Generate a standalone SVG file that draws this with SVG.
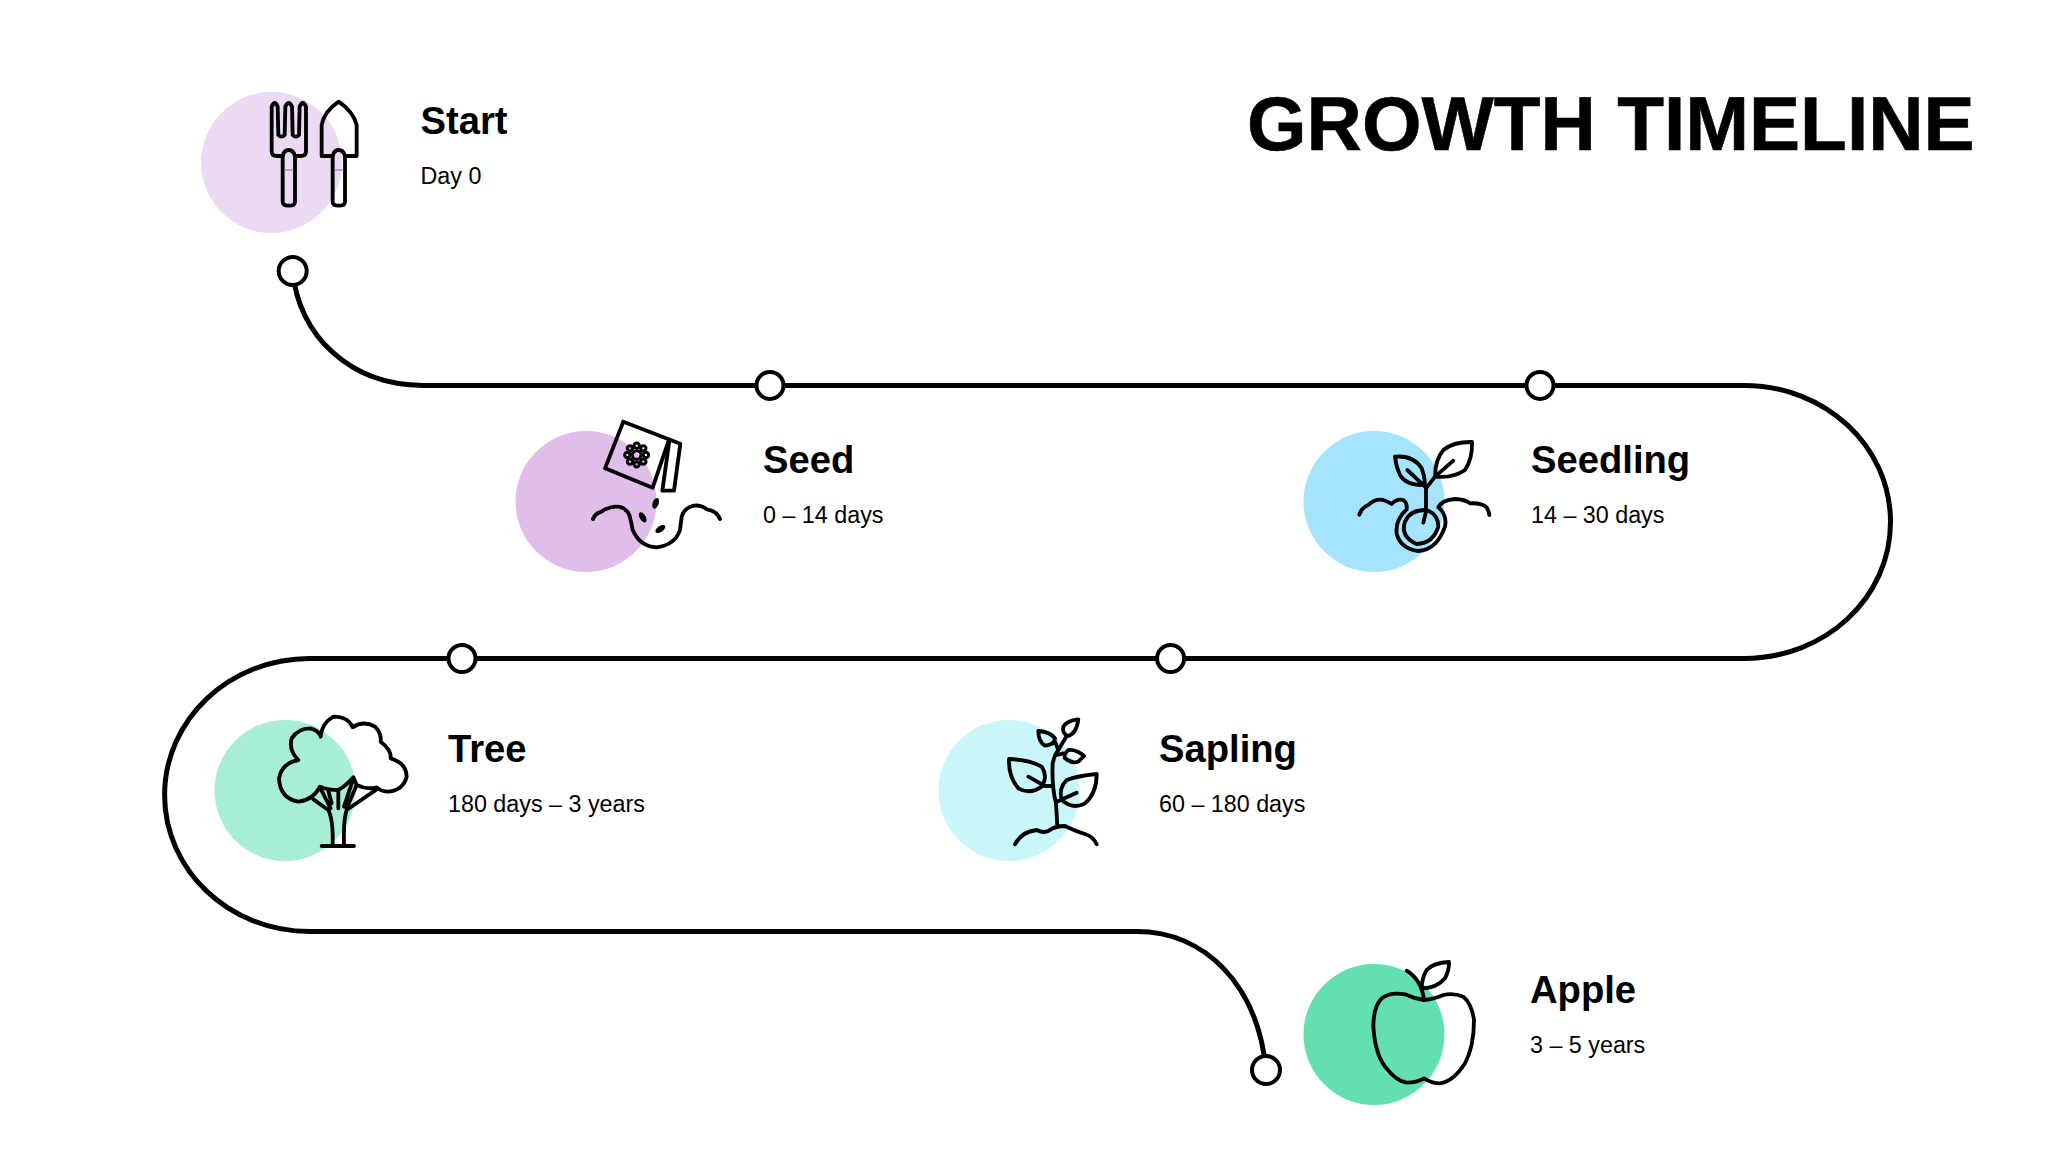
<svg xmlns="http://www.w3.org/2000/svg" width="2048" height="1152" viewBox="0 0 2048 1152">
<style>
text{font-family:"Liberation Sans",Arial,sans-serif;fill:#000}
.h{font-size:38.2px;font-weight:700}
.s{font-size:23.3px}
.t{font-size:76.6px;font-weight:700;stroke:#000;stroke-width:.6}
.ic{fill:none;stroke:#000;stroke-width:11.5;stroke-linejoin:round;stroke-linecap:round}
.thin{fill:none;stroke:#777;stroke-width:3}
.road{fill:none;stroke:#000;stroke-width:5}
.dot{fill:#fff;stroke:#000;stroke-width:4}
</style>
<rect width="2048" height="1152" fill="#fff"/>
<text id="title" class="t" x="1247" y="150">GROWTH TIMELINE</text>
<g id="connectors">
<path class="road" d="M292.7 271 C298 335 350 385.4 423 385.4 L1744 385.4 C1825 385.4 1890.5 446 1890.5 522 C1890.5 598 1825 658.5 1744 658.5 L309.6 658.5 C229 658.5 164.6 720 164.6 795 C164.6 870 229 931.5 309.6 931.5 L1136.7 931.5 C1205 931.5 1258 985 1266 1070"/>
</g>
<g id="milestones">
<circle class="dot" cx="292.7" cy="271" r="14"/>
<circle class="dot" cx="770" cy="385.4" r="13.5"/>
<circle class="dot" cx="1540" cy="385.4" r="13.5"/>
<circle class="dot" cx="462" cy="658.5" r="13.5"/>
<circle class="dot" cx="1170.6" cy="658.5" r="13.5"/>
<circle class="dot" cx="1266" cy="1070" r="14"/>
</g>
<g id="start">
<circle cx="271.5" cy="162.5" r="70.5" fill="#ecd9f3"/>
<g transform="translate(180 70) scale(.33333)">
<path class="ic" d="M275 245 L275 110 Q284 88 293 110 L295 195 Q305 205 314 195 L316 110 Q326 88 336 110 L338 195 Q348 205 357 195 L359 110 Q368 88 378 110 L378 245 Q378 258 360 258 L345 258 Q340 240 326 240 Q312 240 308 258 L292 258 Q275 258 275 245 Z"/>
<path class="ic" d="M308 258 L308 395 Q308 407 327 407 Q345 407 345 395 L345 258"/>
<path class="ic" d="M476 95 Q520 125 530 165 L530 258 L495 258 Q490 240 476 240 Q462 240 458 258 L425 258 L425 165 Q432 125 476 95 Z"/>
<path class="ic" d="M458 258 L458 395 Q458 407 476 407 Q495 407 495 395 L495 258"/>
<path class="thin" d="M312 300 H342 M462 300 H491"/>
</g>
<text class="h" x="420.5" y="134">Start</text>
<text class="s" x="420.5" y="184">Day 0</text>
</g>
<g id="seed">
<circle cx="586" cy="501.5" r="70.5" fill="#e1bdea"/>
<g transform="translate(500 400) scale(.33333)">
<path class="ic" d="M370 65 L541 131 L522 272 L487 272 L508 122"/>
<path class="ic" d="M370 65 L315 205 L458 263 L505 125"/>
<g class="ic" style="stroke-width:9">
<circle cx="410" cy="165" r="13"/>
<circle cx="410" cy="137" r="8"/><circle cx="430" cy="145" r="8"/><circle cx="438" cy="165" r="8"/><circle cx="430" cy="185" r="8"/><circle cx="410" cy="193" r="8"/><circle cx="390" cy="185" r="8"/><circle cx="382" cy="165" r="8"/><circle cx="390" cy="145" r="8"/>
</g>
<ellipse cx="467" cy="310" rx="17" ry="9" transform="rotate(-70 467 310)"/>
<ellipse cx="428" cy="352" rx="17" ry="9" transform="rotate(60 428 352)"/>
<ellipse cx="481" cy="387" rx="17" ry="9" transform="rotate(-35 481 387)"/>
<path class="ic" d="M279 357 Q285 340 305 335 Q315 325 345 320 Q375 318 388 345 Q395 370 398 390 Q420 440 470 442 Q525 435 540 390 L545 350 Q555 318 590 316 Q610 318 620 328 Q650 332 660 357"/>
</g>
<text class="h" x="763" y="473">Seed</text>
<text class="s" x="763" y="523">0 – 14 days</text>
</g>
<g id="seedling">
<circle cx="1374" cy="501.5" r="70.5" fill="#a6e3ff"/>
<g transform="translate(1290 420) scale(.33333)">
<path class="ic" d="M208 284 Q215 262 235 255 Q255 235 280 240 Q295 245 305 252 Q320 235 340 240 Q352 248 350 268 Q315 300 320 340 Q330 385 385 393 Q440 390 465 320 Q472 285 445 262 Q455 240 495 237 Q525 238 540 250 Q575 248 590 262 Q597 275 598 285"/>
<path class="ic" d="M405 270 Q360 270 345 305 Q330 350 380 372 Q430 370 445 320 Q445 285 415 272"/>
<path class="ic" d="M408 205 L408 275 L400 308"/>
<path class="ic" d="M315 110 Q370 105 395 145 Q405 170 405 195 Q350 198 330 165 Q318 140 315 110 Z M352 150 L405 200"/>
<path class="ic" d="M546 66 Q490 65 460 90 Q435 120 435 170 Q490 175 525 150 Q548 115 546 66 Z M490 122 L435 170 L408 205"/>
</g>
<text class="h" x="1531" y="473">Seedling</text>
<text class="s" x="1531" y="523">14 – 30 days</text>
</g>
<g id="tree">
<circle cx="285" cy="790.5" r="70.5" fill="#a8eed5"/>
<g transform="translate(200 700) scale(.33333)">
<path class="ic" d="M360 260 Q340 300 295 305 Q240 295 237 235 Q245 190 295 180 Q265 150 275 115 Q295 85 330 85 Q355 90 362 110 Q365 70 400 50 Q445 50 458 82 Q490 60 525 80 Q545 100 542 125 Q575 150 572 175 Q620 190 620 230 Q610 270 565 275 Q545 275 530 262 Q500 270 470 255 L460 232 Q435 260 415 270 Q385 270 360 260 Z"/>
<path class="ic" d="M340 298 L385 330 Q400 360 398 435 M432 435 Q430 360 440 330 L530 268 M360 262 L392 325 M385 272 L395 310 M415 270 L415 325 M460 235 L432 320 M470 255 L440 325"/>
<path class="ic" d="M365 438 H462"/>
</g>
<text class="h" x="448" y="762">Tree</text>
<text class="s" x="448" y="812">180 days – 3 years</text>
</g>
<g id="sapling">
<circle cx="1009" cy="790.5" r="70.5" fill="#c9f6fa"/>
<g transform="translate(930 700) scale(.33333)">
<path class="ic" d="M255 433 Q275 395 320 390 Q340 400 355 393 Q375 378 405 378 Q440 395 465 402 Q490 410 500 433"/>
<path class="ic" d="M382 378 L378 310 Q365 260 368 190 Q375 160 385 150 L410 108"/>
<path class="ic" d="M237 177 Q300 180 335 200 Q355 230 335 260 Q300 285 265 265 Q235 230 237 177 Z M295 230 L345 258 H368"/>
<path class="ic" d="M500 222 Q440 228 410 240 Q385 265 395 300 Q430 330 465 310 Q500 280 500 222 Z M440 278 L380 305"/>
<path class="ic" d="M445 58 Q410 62 400 80 Q395 100 415 108 Q440 100 445 58 Z"/>
<path class="ic" d="M325 93 Q360 95 375 115 Q375 135 345 137 Q325 125 325 93 Z M375 125 L385 150"/>
<path class="ic" d="M462 168 Q440 148 415 150 Q400 165 405 175 Q425 192 445 185 Z M400 160 L380 165"/>
</g>
<text class="h" x="1159" y="762">Sapling</text>
<text class="s" x="1159" y="812">60 – 180 days</text>
</g>
<g id="apple">
<circle cx="1374" cy="1034.5" r="70.5" fill="#62e0b0"/>
<g transform="translate(1250 940) scale(.33333)">
<path class="ic" d="M522 180 Q490 175 465 163 Q420 155 395 175 Q370 200 370 260 Q375 340 405 380 Q440 425 470 428 Q500 428 522 415 Q545 430 570 430 Q610 425 645 370 Q672 320 672 240 Q665 190 640 170 Q610 158 580 165 Q550 178 522 180 Z"/>
<path class="ic" d="M522 180 Q515 120 470 92"/>
<path class="ic" d="M597 66 Q550 68 530 90 Q515 115 515 145 Q560 145 585 115 Q598 90 597 66 Z"/>
</g>
<text class="h" x="1530" y="1003">Apple</text>
<text class="s" x="1530" y="1053">3 – 5 years</text>
</g>
</svg>
